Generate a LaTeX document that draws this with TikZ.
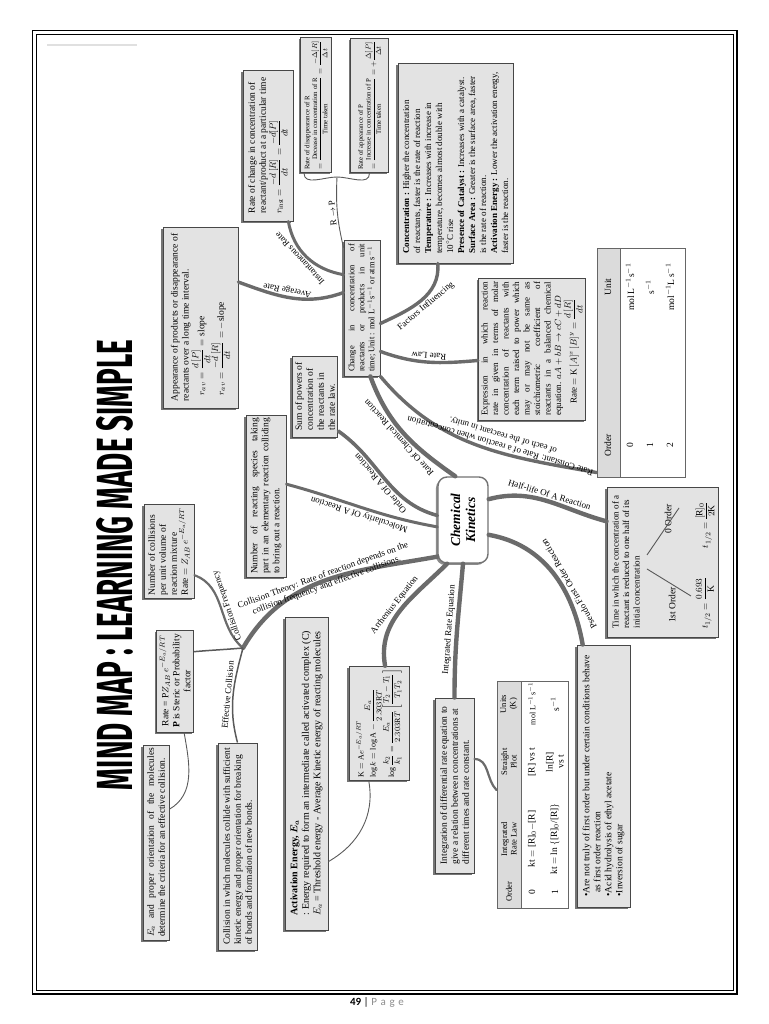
\documentclass[tikz,border=0pt]{standalone}
\usepackage{fontspec}
\usepackage{amsmath}
\usepackage{graphicx}
\setmainfont{Liberation Serif}
\newfontfamily\titlefont{Fira Sans}
\newfontfamily\footfont{Carlito}
\usetikzlibrary{shadows}

\begin{document}
\begin{tikzpicture}[
  x = 1pt, y = 1pt,
  every node/.style = {font=\fontsize{9.5}{11}\selectfont, inner sep=2pt},
  sz/.style 2 args = {minimum width=#1pt, minimum height=#2pt},
  box/.style = {draw=black!72, line width=0.9pt, fill=black!11, align=left, inner sep=3pt,
    drop shadow={shadow xshift=-1.6pt, shadow yshift=-1.6pt, fill=black!60, opacity=.9}},
  jbox/.style = {box, align=justify, text width=#1pt},
  tbl/.style = {draw=black!60, line width=0.9pt},
  hdr/.style = {fill=black!14},
  kinetics/.style = {draw=black!55, line width=1.4pt, rounded corners=9pt, fill=white,
    drop shadow={shadow xshift=-2pt, shadow yshift=-2pt, fill=black!50, opacity=.9}},
  branch/.style = {draw=black!58, line width=4.4pt, line cap=round},
  twig/.style = {draw=black!58, line width=2.2pt, line cap=round},
  thread/.style = {draw=black!65, line width=0.9pt},
  lbl/.style = {font=\fontsize{9}{10.5}\selectfont, sloped, inner sep=1.5pt},
]
\useasboundingbox (-768,0) rectangle (0,1024);

\begin{scope}[rotate=90, transform shape]

% page frame
\draw[line width=0.8pt] (30,31) rectangle (994,736);
\draw[line width=2.6pt] (30,736) -- (30,31) -- (994,31);
\draw[line width=0.6pt] (34,35) rectangle (990,732);
\draw[black!12, line width=1.2pt] (979,631) -- (979,721);

\node (title) at (459,653) {\resizebox{450pt}{36pt}{\titlefont\bfseries MIND MAP : LEARNING MADE SIMPLE}};

% centre
\node[kinetics, sz={86}{50}, align=center, font=\fontsize{13.5}{15}\selectfont\bfseries\itshape] (ck) at (504,305) {Chemical\\Kinetics};

% rate of reaction cluster
\node[jbox=128, sz={136}{36}, font=\fontsize{8.5}{10}\selectfont] (rate) at (716,406)
  {Change in concentration of\linebreak reactants or products in unit\linebreak time; Unit : mol L$^{-1}$s$^{-1}$ or atm s$^{-1}$};
\node[box, sz={181}{75}] (avg) at (706.5,567.5)
  {Appearance of products or disappearance of\\reactants over a long time interval.\\
   \hspace*{6pt}$r_{av}=\dfrac{d\,[P]}{dt}=\text{slope}$\\
   \hspace*{6pt}$r_{av}=\dfrac{-d\,[R]}{dt}=-\text{slope}$};
\node[box, sz={151}{50}] (inst) at (878.5,500)
  {Rate of change in concentration of\\reactant/product at a particular time\\
   $r_{\text{inst}}=\dfrac{-d\,[R]}{dt}=\dfrac{-d[P]}{dt}$};
\node[box, sz={102}{31}, font=\fontsize{6.8}{8}\selectfont] (disap) at (919,452)
  {Rate of disappearance of R\\
   $=\dfrac{\text{Decease in concentration of R}}{\text{Time taken}}=\dfrac{-\Delta[R]}{\Delta t}$};
\node[box, sz={97}{38}, font=\fontsize{6.8}{8}\selectfont] (appear) at (918.5,398.5)
  {Rate of appearance of P\\
   $=\dfrac{\text{Increase in concentration of P}}{\text{Time taken}}=+\dfrac{\Delta[P]}{\Delta t}$};
\node[box, sz={200}{115}, font=\fontsize{9}{11}\selectfont] (factors) at (861,312.5)
  {\textbf{Concentration :} Higher the concentration\\
   of reactants, faster is the rate of reaction\\
   \textbf{Temperature :} Increases with increase in\\
   temperature, becomes almost double with\\
   10$^\circ$C rise\\
   \textbf{Presence of Catalyst :} Increases with a catalyst.\\
   \textbf{Surface Area :} Greater is the surface area, faster\\
   is the rate of reaction.\\
   \textbf{Activation Energy :} Lower the activation energy,\\
   faster is the reaction.};
\node[jbox=134, sz={142}{100}, font=\fontsize{9}{10.5}\selectfont] (ratelaw) at (675,236)
  {Expression in which reaction\linebreak rate in given in terms of molar\linebreak concentration of reactants with\linebreak
   each term raised to power which\linebreak may or may not be same as\linebreak stoichiometric coefficient of\linebreak
   reactants in a balanced chemical\linebreak equation. $aA+bB\rightarrow cC+dD$\\
   \hspace*{12pt}Rate $=\mathrm{K}\,[A]^x\,[B]^y=\dfrac{d\,[R]}{dt}$};
\node[box, sz={81}{44}] (order) at (627.5,453)
  {Sum of powers of\\concentration of\\the reactants in\\the rate law.};
\node[jbox=156, sz={162}{40}] (molec) at (528,502)
  {Number of reacting species taking\linebreak part in an elementary reaction colliding\linebreak to bring out a reaction.};

% order / unit table
\fill[hdr] (547,148) rectangle (776,171);
\node[tbl, sz={229}{88}] (units) at (661.5,127) {};
\draw[tbl] (547,148) -- (776,148);
\node (uh1) at (579,160) {Order};
\node (uh2) at (737,160) {Unit};
\foreach \o/\u [count=\i] in {0/{mol\,L$^{-1}$s$^{-1}$}, 1/{s$^{-1}$}, 2/{mol$^{-1}$L\,s$^{-1}$}} {
  \node (uo\i) at (579,158-20*\i) {\o};
  \node (uu\i) at (737,158-20*\i) {\u};
}

% half-life
\node[box, sz={150}{111}] (halflife) at (462,105.5) {};
\node[align=left, font=\fontsize{9}{10.5}\selectfont] (hltext) at (462,142)
  {Time in which the concentration of a\\reactant is reduced to one half of its\\initial concentration};
\node (hl1) at (421,63) {$t_{1/2}=\dfrac{0.693}{\mathrm{K}}$};
\node (hl0) at (499,63) {$t_{1/2}=\dfrac{[\mathrm{R}]_0}{2\mathrm{K}}$};
\node (hlord1) at (419,96) {1st Order};
\node (hlord0) at (505,100) {0 Order};
\coordinate (vl) at (455,121);
\coordinate (vr) at (469,121);
\draw[thread] (vl) -- (428,77);
\draw[thread] (vr) -- (516,89);

\node[box, sz={262}{53}] (pseudo) at (248,164.5)
  {\textbullet Are not truly of first order but under certain conditions behave\\
   \hspace*{4pt}as first order reaction\\
   \textbullet Acid hydrolysis of ethyl acetate\\
   \textbullet Inversion of sugar};

% integrated rate table
\node[box, sz={175}{39}] (intg) at (238.5,313.5)
  {Integration of differential rate equation to\\give a relation between concentrations at\\different times and rate constant.};
\fill[hdr] (116,247) rectangle (343,271);
\node[tbl, sz={227}{71}] (intgtab) at (229.5,235.5) {};
\draw[tbl] (116,247) -- (343,247);
\foreach \x/\t [count=\i] in {132/Order, 185/{Integrated\\Rate Law}, 262/{Straight\\Plot}, 320/{Units\\(K)}}
  \node[align=center, font=\fontsize{8.5}{9.5}\selectfont] (th\i) at (\x,259) {\t};
\node (tr01) at (132,236) {0};
\node (tr02) at (185,236) {kt $=$ [R]$_0-$[R]};
\node (tr03) at (262,236) {[R] vs t};
\node[font=\fontsize{8}{9}\selectfont] (tr04) at (320,236) {mol L$^{-1}$s$^{-1}$};
\node (tr11) at (132,213) {1};
\node (tr12) at (185,213) {kt $=$ ln $\{$[R]$_0$/[R]$\}$};
\node[align=center] (tr13) at (262,213) {ln[R]\\vs t};
\node (tr14) at (320,213) {s$^{-1}$};

% arrhenius / collision side
\node[box, sz={109}{60}, font=\fontsize{8}{9.5}\selectfont] (arrh) at (300.5,389)
  {$\mathrm{K}=\mathrm{A}e^{-E_a/RT}$\\
   $\log k=\log \mathrm{A}-\dfrac{E_a}{2.303\mathrm{R}T}$\\
   $\log\dfrac{k_2}{k_1}=\dfrac{E_a}{2.303\mathrm{R}T}\left[\dfrac{T_2-T_1}{T_1T_2}\right]$};
\node[box, sz={313}{43}, font=\fontsize{10}{11.5}\selectfont] (actenergy) at (250.5,461.5)
  {\textbf{Activation Energy, $\boldsymbol{E_a}$}\\
   : Energy required to form an intermediate called activated complex (C)\\
   $E_a$ = Threshold energy - Average Kinetic energy of reacting molecules};
\node[box, sz={207}{39}] (effcoll) at (177.5,530.5)
  {Collision in which molecules collide with sufficient\\kinetic energy and proper orientation for breaking\\of bonds and formation of new bonds.};
\node[jbox=189, sz={195}{26}] (criteria) at (181.5,612)
  {$E_a$ and proper orientation of the molecules\linebreak determine the criteria for an effective collision.};
\node[box, sz={102}{36}, align=center] (steric) at (343,593)
  {Rate = P$Z_{AB}\,e^{-E_a/RT}$\\\textbf{P} is Steric or Probability\\factor};
\node[box, sz={93}{50}] (collfreq) at (472.5,599)
  {Number of collisions\\per unit volume of\\reaction mixture\\Rate $=Z_{AB}\,e^{-E_a/RT}$};

\coordinate (hub) at (376,525);
\coordinate (rp) at (847,431);

% branches from the centre
\draw[branch] (ck.10) to[out=55, in=200] node[lbl, pos=.5, above] {Rate Of Chemical Reaction} (rate.187);
\draw[branch, line width=3.6pt] (ck.80) to[out=75, in=235] node[lbl, pos=.5, above] {Order Of A Reaction} (order.214);
\draw[branch, line width=3pt] (ck.105) to[out=80, in=255] node[lbl, pos=.5, above] {Molecularity Of A Reaction} (molec.300);
\draw[branch] (ck.145) to[out=100, in=-30] node[lbl, pos=.5, align=center]
  {Collision Theory: Rate of reaction depends on the\\collision frequency and effective collisions.} (hub);
\draw[branch] (ck.160) to[out=135, in=10] node[lbl, pos=.5, above] {Arrhenius Equation} (arrh.354);
\draw[branch] (ck.180) to[out=175, in=0] node[lbl, pos=.5, above] {Integrated Rate Equation} (intg.east);
\draw[branch] (ck.240) to[out=-100, in=10] node[lbl, pos=.62, below] {Pseudo First Order Reaction} (pseudo.9);
\draw[branch] (ck.309) to[out=-75, in=75] node[lbl, pos=.5, above, allow upside down] {Half-life Of A Reaction} (halflife.54);

% branches from the rate box
\draw[branch, line width=3.4pt] (rate.south west) to[out=220, in=80] node[lbl, pos=.6, below, align=center]
  {Rate Constant: Rate of a reaction when concentration\\of each of the reactant in unity.} (units.158);
\draw[branch, line width=3.4pt] (rate.203) to[out=250, in=95] node[lbl, pos=.5, below] {Rate Law} (ratelaw.102);
\draw[branch, line width=3.4pt] (rate.230) to[out=-65, in=185] node[lbl, pos=.5, below] {Factors Influencing} (factors.170);
\draw[branch, line width=3.4pt] (rate.50) to[out=110, in=250] node[lbl, pos=.55, below] {Average Rate} (avg.313);
\draw[branch, line width=3pt] (rate.29) to[out=80, in=190] node[lbl, pos=.55, above] {Instantaneous Rate} (inst.195);
\draw[thread] (rate.17) to[bend left=8] node[lbl, pos=.5, above] {R $\rightarrow$ P} (rp);
\draw[thread] (disap.170) to[out=180, in=90] (rp) to[out=-90, in=180] (appear.west);

% collision twigs
\draw[twig] (hub) to[out=50, in=250] node[lbl, pos=.5, below] {Collision Frequency} (collfreq.227);
\draw[thread, line width=1.5pt] (hub) to[out=95, in=-85] (steric.327);
\draw[thread, line width=1.5pt] (hub) to[out=165, in=15] node[lbl, pos=.5, above] {Effective Collision} (effcoll.east);
\draw[thread] (steric.190) to[out=190, in=-60] (criteria.338);
\draw[thread] (arrh.170) to[out=190, in=-60] (actenergy.194);
\draw[twig] (intg.323) to[out=-90, in=45] (intgtab.83);

\end{scope}

\node[font=\footfont\fontsize{11}{13}\selectfont] (pageno) at (-391,22)
  {\textbf{49} | \textcolor{black!45}{P\,\,a\,\,g\,\,e}};
\end{tikzpicture}
\end{document}
